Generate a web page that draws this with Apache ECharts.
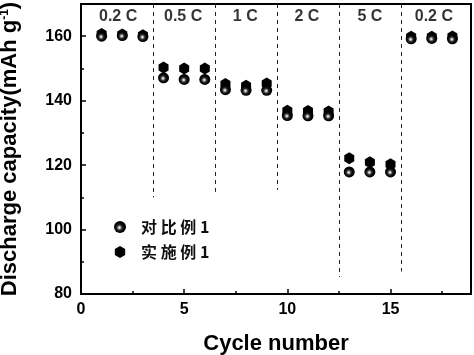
<!DOCTYPE html>
<html>
<head>
<meta charset="utf-8">
<script src="https://cdn.jsdelivr.net/npm/echarts@6/dist/echarts.min.js"></script>
<style>html,body{margin:0;padding:0;background:#fff;}#c{width:474px;height:355px;}</style>
</head>
<body>
<div id="c"></div>
<script>
const cycles = [1,2,3,4,5,6,7,8,9,10,11,12,13,14,15,16,17,18];
const compareName = '对比例1';
const exampleName = '实施例1';
const compareValues = [160.0,160.2,159.9,147.1,146.6,146.6,143.4,143.2,143.2,135.4,135.3,135.3,117.9,117.9,117.9,159.2,159.3,159.2];
const exampleValues = [160.7,160.5,160.3,150.3,150.0,150.0,145.2,144.6,145.3,136.9,136.8,136.6,122.1,120.9,120.3,159.8,159.8,159.9];
const rateLabels = ['0.2 C','0.5 C','1 C','2 C','5 C','0.2 C'];
const rateLabelX = [1.8,4.95,7.96,10.95,14.0,17.1];
const rateLabelY = 166.2;
const dividerX = [3.5,6.5,9.5,12.5,15.5];
const dividerBottom = [110,111.7,112.3,85.3,87];
const dividerTop = 170;
const xTickLabels = [0,5,10,15];
const yTickLabels = [80,100,120,140,160];

const FONT = 'Arial, "Liberation Sans", sans-serif';
const chart = echarts.init(document.getElementById('c'), null, {renderer:'canvas'});

const sphere = {
  type:'radial', x:0.45, y:0.55, r:0.55,
  colorStops:[{offset:0,color:'#ffffff'},{offset:0.18,color:'#b0b0b0'},{offset:0.4,color:'#2a2a2a'},{offset:0.7,color:'#000'},{offset:1,color:'#000'}]
};
const hexPath = 'path://M0,-1 L0.866,-0.5 L0.866,0.5 L0,1 L-0.866,0.5 L-0.866,-0.5 Z';

chart.setOption({
  animation:false,
  backgroundColor:'#fff',
  grid:{left:81,right:3,top:4,bottom:61,show:true,borderColor:'#000',borderWidth:2,backgroundColor:'transparent',
        containLabel:false, outerBoundsMode:'none'},
  legend:{
    data:[compareName, exampleName],
    orient:'vertical', left:114, top:219, padding:0,
    itemWidth:12, itemHeight:12, itemGap:9,
    formatter:n=>n.split('').join(' '),
    textStyle:{fontFamily:'"Noto Sans CJK SC"', fontWeight:'bold', fontSize:16, color:'#111', lineHeight:16, padding:[0,0,0,10]}
  },
  xAxis:[
    {type:'value', min:0, max:18.9, interval:5,
     axisLine:{show:true,onZero:false,lineStyle:{color:'#000',width:2}},
     axisTick:{inside:true,length:5,lineStyle:{color:'#000',width:1.5}},
     axisLabel:{showMaxLabel:false, margin:8, color:'#000', fontSize:16, fontWeight:'bold', fontFamily:FONT,
       formatter:v=>xTickLabels.includes(v)?String(v):''},
     splitLine:{show:false},
     name:'Cycle number', nameLocation:'middle', nameGap:39,
     nameTextStyle:{fontSize:22, fontWeight:'bold', fontFamily:FONT, color:'#000'}},
    {type:'value', min:0, max:18.9, interval:2.5, position:'bottom',
     axisLine:{show:false}, axisTick:{inside:true,length:3,lineStyle:{color:'#000',width:1.5}},
     axisLabel:{show:false}, splitLine:{show:false}}
  ],
  yAxis:[
    {type:'value', min:80, max:170, interval:20,
     axisLine:{show:true,onZero:false,lineStyle:{color:'#000',width:2}},
     axisTick:{inside:true,length:5,lineStyle:{color:'#000',width:1.5}},
     axisLabel:{showMaxLabel:false, margin:9, color:'#000', fontSize:16, fontWeight:'bold', fontFamily:FONT,
       formatter:v=>yTickLabels.includes(v)?String(v):''},
     splitLine:{show:false},
     name:'{a|Discharge capacity(mAh g}{s|-1}{a|)}', nameLocation:'middle', nameGap:60, nameRotate:90,
     nameTextStyle:{rich:{
       a:{fontSize:22, fontWeight:'bold', fontFamily:FONT, color:'#000'},
       s:{fontSize:12, fontWeight:'bold', fontFamily:FONT, color:'#000', verticalAlign:'top'}
     }}},
    {type:'value', min:80, max:170, interval:10, position:'left',
     axisLine:{show:false}, axisTick:{inside:true,length:3,lineStyle:{color:'#000',width:1.5}},
     axisLabel:{show:false}, splitLine:{show:false}}
  ],
  series:[
    {name:exampleName, type:'scatter', symbol:hexPath, symbolSize:[10,12],
     itemStyle:{color:'#000', opacity:1},
     data:cycles.map((c,i)=>[c,exampleValues[i]])},
    {name:compareName, type:'scatter', symbol:'circle', symbolSize:11,
     itemStyle:{color:sphere, opacity:1},
     data:cycles.map((c,i)=>[c,compareValues[i]]),
     markLine:{silent:true, symbol:'none', label:{show:false},
       lineStyle:{type:[4,4], color:'#222', width:1},
       data:dividerX.map((x,i)=>[{coord:[x,dividerTop]},{coord:[x,dividerBottom[i]]}])}},
    {name:'rates', type:'scatter', symbolSize:0, silent:true,
     data:rateLabels.map((t,i)=>[rateLabelX[i], rateLabelY, t]),
     label:{show:true, position:'inside', formatter:p=>p.data[2], color:'#000', fontSize:16, fontWeight:'bold', fontFamily:FONT}}
  ]
});
</script>
</body>
</html>
